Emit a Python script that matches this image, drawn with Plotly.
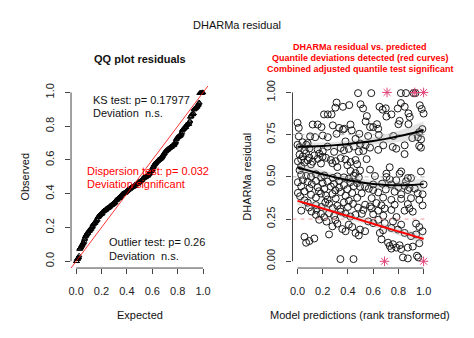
import numpy as np
import plotly.graph_objects as go

# ---------------- data ----------------
# scaled (DHARMa) residuals vs rank-transformed model predictions, by region of the plot
pred_upper_left = [0.48, 0.31, 0.30, 0.36, 0.41, 0.21, 0.24, 0.27, 0.00, 0.01, 0.12, 0.16, 0.19,
                   0.28, 0.33, 0.36, 0.37, 0.42, 0.43, 0.01, 0.10, 0.14, 0.20, 0.31, 0.24, 0.04,
                   0.08, 0.00, 0.07, 0.46, 0.49, 0.38]
resid_upper_left = [0.996, 0.94, 0.91, 0.915, 0.925, 0.87, 0.87, 0.87, 0.82, 0.79, 0.81, 0.81, 0.795,
                    0.805, 0.79, 0.78, 0.785, 0.81, 0.775, 0.74, 0.74, 0.735, 0.745, 0.755, 0.735, 0.705,
                    0.70, 0.69, 0.69, 0.725, 0.755, 0.71]

pred_upper_right = [0.585, 0.82, 0.86, 0.92, 0.935, 0.50, 0.52, 0.65, 0.675, 0.70, 0.82, 0.795, 0.85,
                    0.97, 0.985, 1.0, 0.55, 0.705, 0.745, 0.88, 0.89, 0.54, 0.575, 0.60, 0.63, 0.64,
                    0.80, 0.81, 0.88, 0.965, 0.99, 0.955, 0.98, 0.56, 0.645, 0.76, 0.50, 0.54, 0.68,
                    0.755, 0.85, 0.965, 0.91]
resid_upper_right = [0.996, 0.996, 0.996, 0.996, 0.996, 0.93, 0.905, 0.915, 0.898, 0.906, 0.937, 0.905,
                     0.915, 0.924, 0.902, 0.875, 0.86, 0.857, 0.87, 0.876, 0.855, 0.828, 0.795, 0.795,
                     0.812, 0.785, 0.812, 0.832, 0.812, 0.765, 0.783, 0.735, 0.722, 0.742, 0.748, 0.742,
                     0.696, 0.687, 0.687, 0.677, 0.687, 0.683, 0.73]

pred_middle_left = [0.016, 0.055, 0.094, 0.16, 0.20, 0.238, 0.29, 0.342, 0.368, 0.407, 0.446, 0.486,
                    0.016, 0.042, 0.068, 0.094, 0.133, 0.172, 0.199,
                    0.003, 0.029, 0.055, 0.081, 0.12, 0.16, 0.225, 0.264, 0.303, 0.342, 0.381, 0.42, 0.46,
                    0.029, 0.107, 0.186, 0.277, 0.316, 0.395, 0.473,
                    0.016, 0.42, 0.46,
                    0.029, 0.068, 0.107, 0.146, 0.186, 0.212, 0.28, 0.316, 0.368, 0.407, 0.446, 0.486,
                    0.003, 0.042, 0.081, 0.113, 0.146, 0.199, 0.238, 0.29, 0.33, 0.368, 0.42, 0.473,
                    0.029, 0.094, 0.16, 0.212, 0.264, 0.33, 0.395, 0.446,
                    0.003, 0.055, 0.107, 0.186, 0.225, 0.277, 0.342, 0.381, 0.434,
                    0.02, 0.17, 0.30,
                    0.055, 0.146, 0.238, 0.303, 0.407, 0.473,
                    0.081, 0.146, 0.25, 0.316, 0.368,
                    0.09, 0.15, 0.19, 0.22, 0.28, 0.34, 0.40, 0.44, 0.48]
resid_middle_left = [0.676, 0.658, 0.668, 0.662, 0.651, 0.679, 0.648, 0.671, 0.657, 0.666, 0.680, 0.650,
                     0.632, 0.621, 0.640, 0.614, 0.627, 0.638, 0.619,
                     0.592, 0.604, 0.585, 0.598, 0.590, 0.607, 0.613, 0.600, 0.593, 0.611, 0.603, 0.588, 0.600,
                     0.562, 0.574, 0.579, 0.581, 0.558, 0.569, 0.575,
                     0.540, 0.535, 0.522,
                     0.512, 0.506, 0.501, 0.516, 0.496, 0.508, 0.494, 0.503, 0.497, 0.490, 0.507, 0.497,
                     0.468, 0.482, 0.471, 0.457, 0.476, 0.463, 0.472, 0.458, 0.477, 0.452, 0.469, 0.463,
                     0.444, 0.433, 0.438, 0.429, 0.443, 0.437, 0.427, 0.445,
                     0.405, 0.414, 0.394, 0.401, 0.390, 0.399, 0.410, 0.388, 0.404,
                     0.385, 0.415, 0.420,
                     0.361, 0.377, 0.366, 0.372, 0.359, 0.376,
                     0.347, 0.333, 0.341, 0.329, 0.349,
                     0.318, 0.305, 0.322, 0.348, 0.315, 0.310, 0.322, 0.340, 0.318]

pred_middle_right = [0.522, 0.575, 0.64, 0.783, 0.849, 0.979, 0.548,
                     0.496, 0.575, 0.705, 0.731, 0.81, 0.822, 0.979,
                     0.614, 0.705, 0.731, 0.783, 0.875, 0.90, 0.861,
                     0.496, 0.536, 0.60, 0.671, 0.744, 0.849, 0.888, 1.0,
                     0.565, 0.70, 0.80, 0.93,
                     0.509, 0.60, 0.64, 0.77, 0.822, 0.875, 0.953, 0.992,
                     0.588, 0.679, 0.744, 0.822, 0.90, 0.966,
                     0.536, 0.575, 0.626, 0.666, 0.77, 0.875, 0.992]
resid_middle_right = [0.654, 0.673, 0.66, 0.667, 0.635, 0.673, 0.605,
                      0.538, 0.543, 0.519, 0.557, 0.519, 0.532, 0.532,
                      0.505, 0.499, 0.485, 0.48, 0.493, 0.493, 0.474,
                      0.441, 0.441, 0.455, 0.46, 0.455, 0.447, 0.435, 0.455,
                      0.430, 0.425, 0.440, 0.430,
                      0.403, 0.422, 0.408, 0.412, 0.397, 0.422, 0.403, 0.397,
                      0.374, 0.377, 0.364, 0.37, 0.374, 0.364,
                      0.335, 0.325, 0.345, 0.331, 0.335, 0.339, 0.331]

pred_lower_left = [0.146, 0.186, 0.212, 0.172, 0.25, 0.29, 0.342, 0.381, 0.42, 0.46,
                   0.277, 0.316, 0.355, 0.381, 0.407, 0.434, 0.46, 0.486,
                   0.055, 0.068, 0.094, 0.133, 0.25,
                   0.34, 0.444,
                   0.03, 0.11, 0.23, 0.30]
resid_lower_left = [0.275, 0.281, 0.261, 0.246, 0.284, 0.269, 0.294, 0.281, 0.265, 0.275,
                    0.207, 0.223, 0.191, 0.178, 0.217, 0.203, 0.168, 0.153,
                    0.145, 0.11, 0.12, 0.135, 0.159,
                    0.013, 0.013,
                    0.30, 0.295, 0.235, 0.245]

pred_lower_right = [0.522, 0.588, 0.64, 0.692, 0.744, 0.849, 0.888, 0.914,
                    0.51, 0.60, 0.68, 0.785,
                    0.561, 0.60, 0.64, 0.692, 0.757, 0.822, 0.94, 0.966,
                    0.496, 0.536, 0.653, 0.679, 0.744, 0.796, 0.849, 0.90, 0.94, 0.992,
                    0.718, 0.731, 0.744, 0.757, 0.783, 0.81, 0.822, 0.875, 0.914, 0.966, 0.666,
                    0.836, 0.875, 0.947, 0.958]
resid_lower_right = [0.304, 0.313, 0.30, 0.313, 0.304, 0.30, 0.313, 0.294,
                     0.281, 0.279, 0.270, 0.262,
                     0.236, 0.226, 0.246, 0.226, 0.236, 0.217, 0.223, 0.203,
                     0.188, 0.178, 0.168, 0.184, 0.197, 0.188, 0.168, 0.149, 0.159, 0.178,
                     0.11, 0.091, 0.075, 0.101, 0.081, 0.095, 0.072, 0.081, 0.087, 0.107, 0.13,
                     0.023, 0.017, 0.033, 0.023]

# residuals at the boundary (simulation outliers)
pred_outlier = [0.71, 0.93, 1.0, 0.69, 1.0]
resid_outlier = [1.0, 1.0, 1.0, 0.0, 0.0]

# fitted quantile regressions (0.25, 0.5, 0.75) with their confidence half-widths
curve_x = [0.0, 0.1, 0.2, 0.3, 0.4, 0.5, 0.6, 0.7, 0.8, 0.9, 1.0]
q75_fit = [0.678, 0.680, 0.683, 0.688, 0.695, 0.703, 0.713, 0.725, 0.740, 0.757, 0.778]
q75_ci = [0.025, 0.022, 0.020, 0.019, 0.019, 0.020, 0.022, 0.027, 0.033, 0.042, 0.052]
q50_fit = [0.555, 0.535, 0.515, 0.497, 0.481, 0.468, 0.458, 0.452, 0.450, 0.452, 0.457]
q50_ci = [0.030, 0.026, 0.022, 0.020, 0.019, 0.019, 0.020, 0.022, 0.025, 0.029, 0.034]
q25_fit = [0.358, 0.336, 0.313, 0.290, 0.268, 0.245, 0.222, 0.199, 0.177, 0.155, 0.132]
q25_ci = [0.026, 0.022, 0.019, 0.017, 0.016, 0.016, 0.017, 0.019, 0.022, 0.026, 0.030]
quantiles = [0.25, 0.5, 0.75]

pred = (pred_upper_left + pred_upper_right + pred_middle_left + pred_middle_right
        + pred_lower_left + pred_lower_right + pred_outlier)
resid = (resid_upper_left + resid_upper_right + resid_middle_left + resid_middle_right
         + resid_lower_left + resid_lower_right + resid_outlier)
assert len(pred) == len(resid)

pred = np.array(pred)
resid = np.array(resid)
is_out = (resid <= 0.0) | (resid >= 1.0)

# uniform QQ: sorted residuals against expected uniform quantiles
n = len(resid)
observed = np.sort(resid)
expected = (np.arange(1, n + 1) - 0.5) / n

# ---------------- layout helpers ----------------
W, H = 474, 338
FONT = "Liberation Sans, Arial, Helvetica, sans-serif"
RNG = [-0.04, 1.04]


def fx(p):
    return p / W


def fy(p):
    return 1 - p / H


left_dom = [fx(68.9), fx(207.8)]
right_dom = [fx(293.2), fx(431.1)]
y_dom = [fy(268.6), fy(82.4)]

fig = go.Figure()

# ---- left: QQ plot ----
fig.add_trace(go.Scatter(
    x=expected, y=observed, mode="markers", xaxis="x", yaxis="y",
    marker=dict(symbol="triangle-up-open", size=5, color="black", line=dict(width=1, color="black")),
    hoverinfo="skip"))
fig.add_trace(go.Scatter(
    x=RNG, y=RNG, mode="lines", xaxis="x", yaxis="y",
    line=dict(color="red", width=0.8), hoverinfo="skip"))

# ---- right: residual vs predicted ----
fig.add_trace(go.Scatter(
    x=pred[~is_out], y=resid[~is_out], mode="markers", xaxis="x2", yaxis="y2",
    marker=dict(symbol="circle-open", size=7, color="#1a1a1a", line=dict(width=1, color="#1a1a1a")),
    hoverinfo="skip"))
fig.add_trace(go.Scatter(
    x=pred[is_out], y=resid[is_out], mode="markers", xaxis="x2", yaxis="y2",
    marker=dict(symbol="asterisk-open", size=8, color="#e0457b", line=dict(width=1, color="#e0457b")),
    hoverinfo="skip"))

# reference lines at the tested quantiles
for q in quantiles:
    col = "#f29a9a" if q == 0.25 else "#b0b0b0"
    fig.add_trace(go.Scatter(
        x=RNG, y=[q, q], mode="lines", xaxis="x2", yaxis="y2",
        line=dict(color=col, width=1, dash="4px,4px"), hoverinfo="skip"))

# quantile regression bands and curves
for fit, ci, col in [(q75_fit, q75_ci, "black"), (q50_fit, q50_ci, "black"), (q25_fit, q25_ci, "red")]:
    fit = np.array(fit)
    ci = np.array(ci)
    xs = list(curve_x) + list(curve_x[::-1])
    ys = list(fit + ci) + list((fit - ci)[::-1])
    fig.add_trace(go.Scatter(
        x=xs, y=ys, mode="lines", fill="toself", xaxis="x2", yaxis="y2",
        fillcolor="rgba(150,150,150,0.25)", line=dict(width=0), hoverinfo="skip"))
    fig.add_trace(go.Scatter(
        x=curve_x, y=fit, mode="lines", xaxis="x2", yaxis="y2", line_shape="spline",
        line=dict(color=col, width=2), hoverinfo="skip"))

# ---------------- axes ----------------
axis_common = dict(range=RNG, showgrid=False, zeroline=False, showline=False,
                   ticks="outside", ticklen=5, tickwidth=1, tickcolor="#444",
                   tickfont=dict(family=FONT, size=11, color="#222"), fixedrange=True)

fig.update_layout(
    xaxis=dict(domain=left_dom, anchor="y", tickvals=[0, 0.2, 0.4, 0.6, 0.8, 1.0],
               tickformat=".1f", ticklabelstandoff=8, **axis_common),
    yaxis=dict(domain=y_dom, anchor="x", tickvals=[0, 0.2, 0.4, 0.6, 0.8, 1.0],
               tickformat=".1f", tickangle=-90, ticklabelstandoff=7, **axis_common),
    xaxis2=dict(domain=right_dom, anchor="y2", tickvals=[0, 0.2, 0.4, 0.6, 0.8, 1.0],
                tickformat=".1f", ticklabelstandoff=8, **axis_common),
    yaxis2=dict(domain=y_dom, anchor="x2", tickvals=[0, 0.25, 0.5, 0.75, 1.0],
                tickformat=".2f", tickangle=-90, ticklabelstandoff=7, **axis_common),
)

# axis lines spanning only the tick range
shapes = []
for xa, ya in [("x", "y"), ("x2", "y2")]:
    shapes.append(dict(type="line", xref=xa, yref=f"{ya} domain", x0=0, x1=1, y0=0, y1=0,
                       line=dict(color="#444", width=1)))
    shapes.append(dict(type="line", xref=f"{xa} domain", yref=ya, x0=0, x1=0, y0=0, y1=1,
                       line=dict(color="#444", width=1)))

# ---------------- text ----------------
def note(text, x, y, size=11, color="#111", anchor="left", angle=0, bold=False):
    if bold:
        text = f"<b>{text}</b>"
    return dict(text=text, x=fx(x), y=fy(y), xref="paper", yref="paper", showarrow=False,
                xanchor=anchor, yanchor="middle", textangle=angle,
                font=dict(family=FONT, size=size, color=color))


annotations = [
    note("DHARMa residual", 237, 20.7, size=11, anchor="center"),
    note("QQ plot residuals", 138.4, 55, size=11, anchor="center", bold=True),
    note("DHARMa residual vs. predicted", 362, 43.3, size=9, color="red", anchor="center", bold=True),
    note("Quantile deviations detected (red curves)", 362, 54.3, size=9, color="red", anchor="center", bold=True),
    note("Combined adjusted quantile test significant", 362, 65.3, size=9, color="red", anchor="center", bold=True),
    note("KS test: p= 0.17977", 89.3, 96.7),
    note("Deviation\u00a0 n.s.", 89.3, 110),
    note("Dispersion test: p= 0.032", 83.3, 169.3, color="red"),
    note("Deviation significant", 83.3, 182.7, color="red"),
    note("Outlier test: p= 0.26", 105, 242.3),
    note("Deviation\u00a0 n.s.", 105, 256),
    note("Expected", 138.4, 317, anchor="center"),
    note("Observed", 22, 175.5, anchor="center", angle=-90),
    note("Model predictions (rank transformed)", 362, 317, anchor="center"),
    note("DHARMa residual", 247, 175.5, anchor="center", angle=-90),
]

fig.update_layout(
    width=W, height=H, margin=dict(l=0, r=0, t=0, b=0),
    paper_bgcolor="white", plot_bgcolor="white", showlegend=False,
    shapes=shapes, annotations=annotations,
    font=dict(family=FONT, size=11, color="#111"),
)

fig.write_html("out.html", config={"displayModeBar": False})
